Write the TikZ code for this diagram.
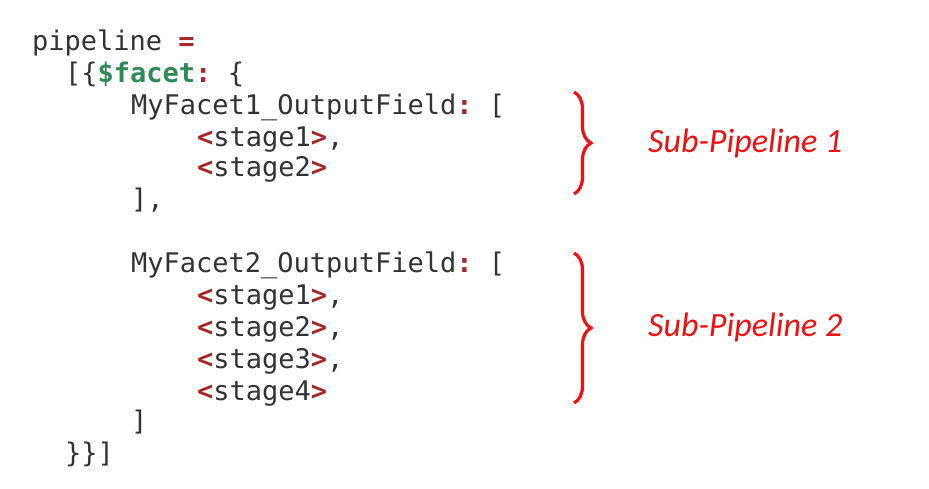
\documentclass[tikz,border=0pt]{standalone}
\usepackage{fontspec}
\setmonofont{DejaVu Sans Mono}
\newfontfamily\labfont{Carlito}
\usetikzlibrary{decorations.pathreplacing}
\definecolor{codegray}{HTML}{333333}
\definecolor{kwred}{HTML}{A82828}
\definecolor{kwgreen}{HTML}{2E8B57}
\definecolor{labred}{HTML}{F01010}
\newcommand{\rd}[1]{\textcolor{kwred}{\textbf{#1}}}
\begin{document}
\begin{tikzpicture}[x=1pt,y=-1pt,
  code/.style={anchor=base west,inner sep=0pt,font=\ttfamily\fontsize{27}{27}\selectfont,text=codegray},
  lab/.style={anchor=west,inner sep=0pt,font=\labfont\itshape\fontsize{34}{34}\selectfont,text=labred},
  br/.style={decorate,decoration={brace,amplitude=17pt,raise=0pt},draw=labred,line width=3.2pt}]
\useasboundingbox (0,0) rectangle (929,488);
\def\cw{16.5}
\node[code] (l1) at (32,50) {pipeline \rd{=}};
\node[code] (l2) at (32+2*\cw,82) {[\{\textcolor{kwgreen}{\textbf{\$facet}}\rd{:} \{};
\node[code] (l3) at (32+6*\cw,114) {MyFacet1\_OutputField\rd{:} [};
\node[code] (l4) at (32+10*\cw,146) {\rd{<}stage1\rd{>},};
\node[code] (l5) at (32+10*\cw,176) {\rd{<}stage2\rd{>}};
\node[code] (l6) at (32+6*\cw,208) {],};
\node[code] (l7) at (32+6*\cw,272) {MyFacet2\_OutputField\rd{:} [};
\node[code] (l8) at (32+10*\cw,304) {\rd{<}stage1\rd{>},};
\node[code] (l9) at (32+10*\cw,336) {\rd{<}stage2\rd{>},};
\node[code] (l10) at (32+10*\cw,368) {\rd{<}stage3\rd{>},};
\node[code] (l11) at (32+10*\cw,400) {\rd{<}stage4\rd{>}};
\node[code] (l12) at (32+6*\cw,430) {]};
\node[code] (l13) at (32+2*\cw,462) {\}\}]};
\coordinate (b1t) at (574,92);
\coordinate (b1b) at (574,194);
\coordinate (b2t) at (574,253);
\coordinate (b2b) at (574,403);
\draw[br] (b1t) -- (b1b);
\draw[br] (b2t) -- (b2b);
\node[lab] (s1) at (648,143) {Sub-Pipeline 1};
\node[lab] (s2) at (648,327) {Sub-Pipeline 2};
\end{tikzpicture}
\end{document}
